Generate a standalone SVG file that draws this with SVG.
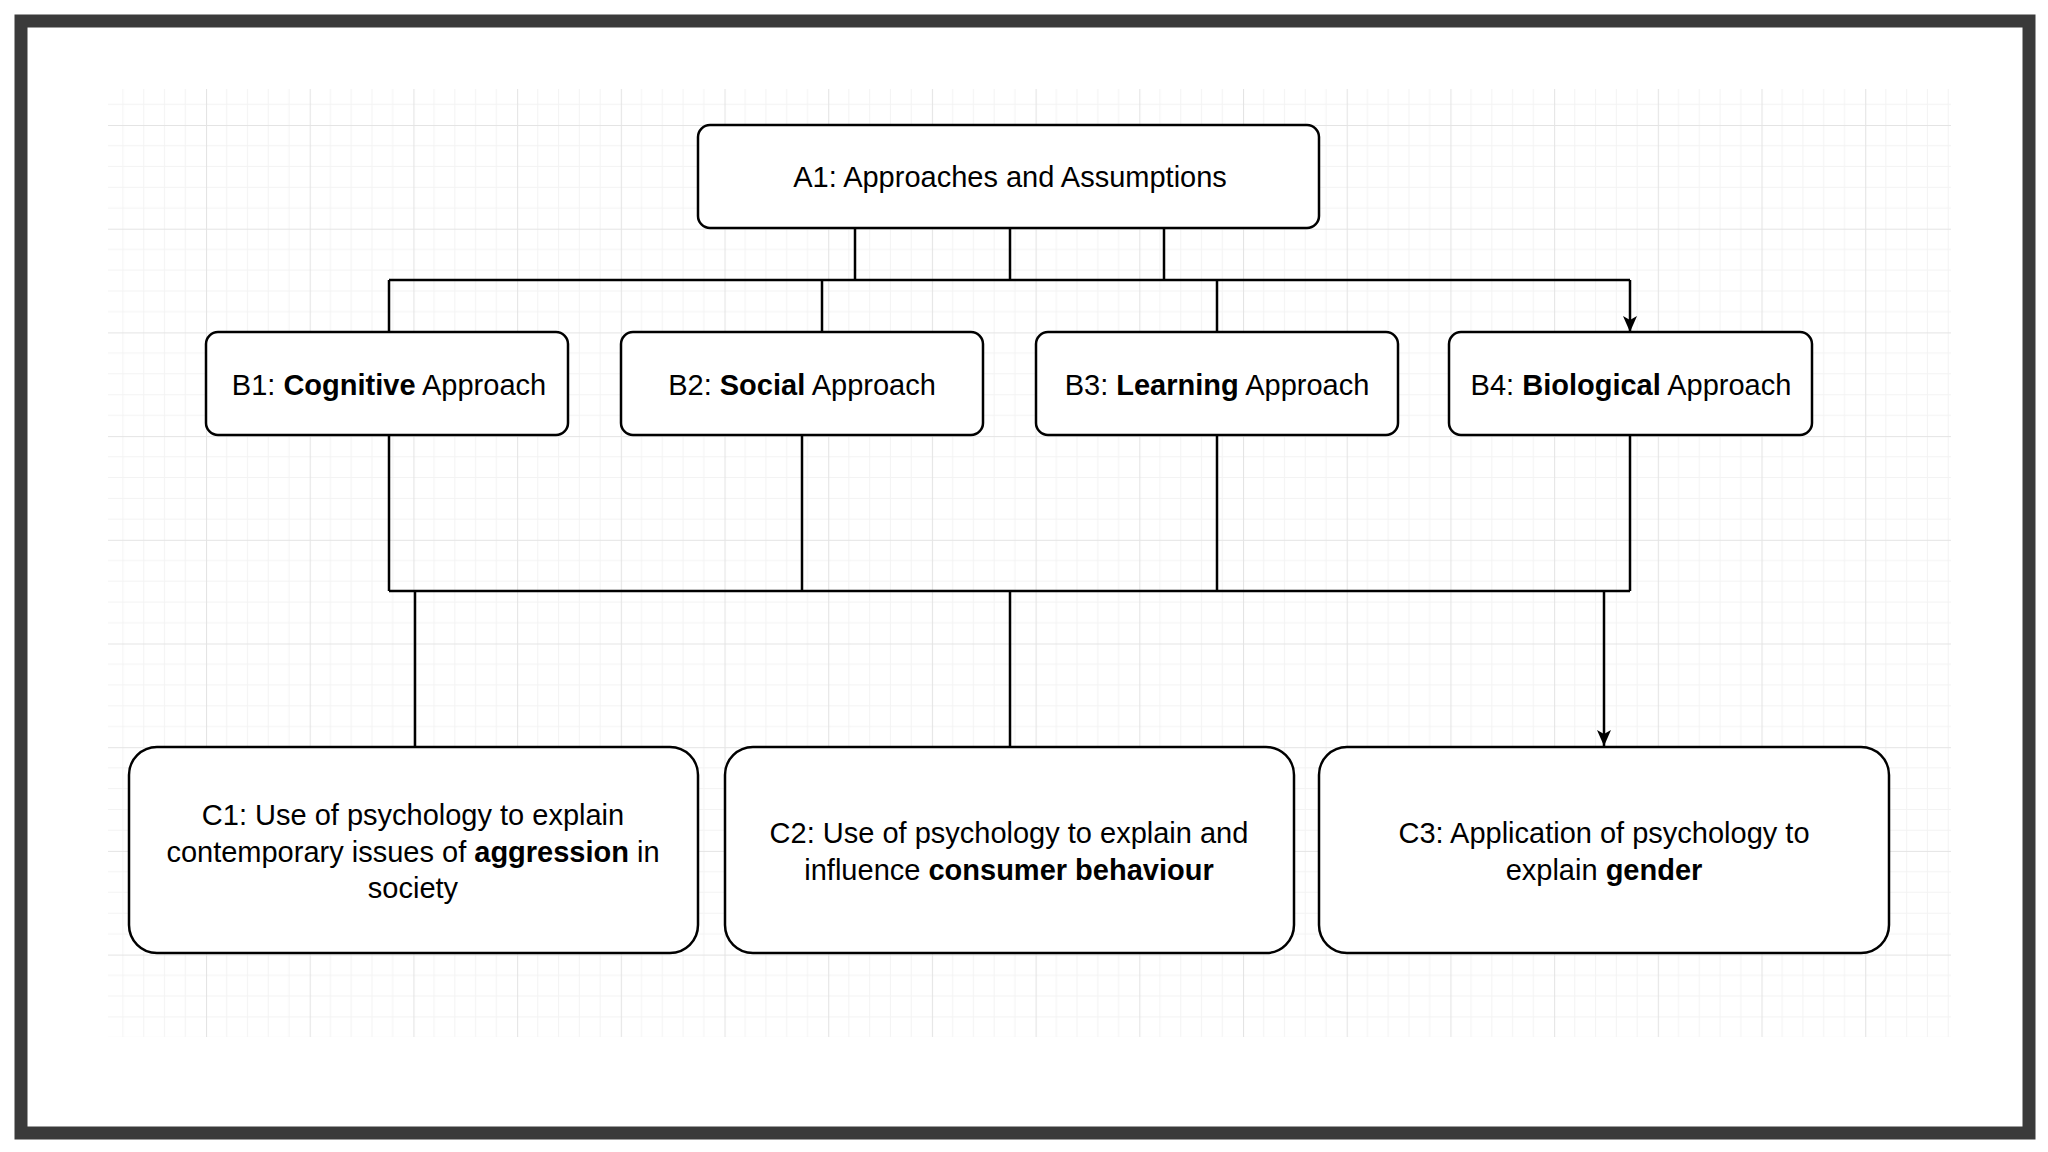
<svg xmlns="http://www.w3.org/2000/svg" width="2048" height="1152" viewBox="0 0 2048 1152">
<style>
.box{fill:#fff;stroke:#000;stroke-width:2.5}
.t{font-family:"Liberation Sans",Arial,sans-serif;font-size:29px;fill:#000;text-anchor:middle}
.b{font-weight:bold}
.c{fill:none;stroke:#000;stroke-width:2.5}
</style>
<defs>
<pattern id="g" x="206" y="125" width="103.7" height="103.7" patternUnits="userSpaceOnUse">
<path d="M20.74 0V103.7M41.48 0V103.7M62.22 0V103.7M82.96 0V103.7M0 20.74H103.7M0 41.48H103.7M0 62.22H103.7M0 82.96H103.7" stroke="#f3f3f3" stroke-width="1"/>
<path d="M0.5 0V103.7M0 0.5H103.7" stroke="#e4e4e4" stroke-width="1.2"/>
</pattern>
<marker id="ar" viewBox="0 0 10 10" refX="10" refY="5" markerWidth="6" markerHeight="6" orient="auto" markerUnits="userSpaceOnUse" style="overflow:visible">
<path d="M0 0L10 5L0 10L3 5Z" fill="#000"/>
</marker>
<marker id="a" viewBox="0 0 16 16" refX="16" refY="8" markerWidth="16" markerHeight="16" orient="auto" markerUnits="userSpaceOnUse">
<path d="M0 1L16 8L0 15L4 8Z" fill="#000"/>
</marker>
</defs>
<rect width="2048" height="1152" fill="#fff"/>
<rect x="108" y="89" width="1843" height="948" fill="url(#g)"/>
<rect x="21" y="21" width="2008" height="1112" fill="none" stroke="#3a3a3a" stroke-width="13"/>
<g id="connectors">
<path class="c" d="M855 228V280M1010 228V280M1164 228V280M389 280H1630"/>
<path class="c" marker-end="url(#a)" d="M389 280V332M822 280V332M1217 280V332M1630 280V332"/>
<path class="c" d="M389 435V591M802 435V591M1217 435V591M1630 435V591M389 591H1630"/>
<path class="c" marker-end="url(#a)" d="M415 591V746M1010 591V746M1604 591V746"/>
</g>
<g id="A1"><rect class="box" x="698" y="125" width="621" height="103" rx="12"/><text class="t" x="1010" y="187">A1: Approaches and Assumptions</text></g>
<g id="B1"><rect class="box" x="206" y="332" width="362" height="103" rx="12"/><text class="t" x="389" y="395">B1: <tspan class="b">Cognitive</tspan> Approach</text></g>
<g id="B2"><rect class="box" x="621" y="332" width="362" height="103" rx="12"/><text class="t" x="802" y="395">B2: <tspan class="b">Social</tspan> Approach</text></g>
<g id="B3"><rect class="box" x="1036" y="332" width="362" height="103" rx="12"/><text class="t" x="1217" y="395">B3: <tspan class="b">Learning</tspan> Approach</text></g>
<g id="B4"><rect class="box" x="1449" y="332" width="363" height="103" rx="12"/><text class="t" x="1631" y="395">B4: <tspan class="b">Biological</tspan> Approach</text></g>
<g id="C1"><rect class="box" x="129" y="747" width="569" height="206" rx="28"/><text class="t" x="413" y="825">C1: Use of psychology to explain</text><text class="t" x="413" y="862">contemporary issues of <tspan class="b">aggression</tspan> in</text><text class="t" x="413" y="898">society</text></g>
<g id="C2"><rect class="box" x="725" y="747" width="569" height="206" rx="28"/><text class="t" x="1009" y="843">C2: Use of psychology to explain and</text><text class="t" x="1009" y="880">influence <tspan class="b">consumer behaviour</tspan></text></g>
<g id="C3"><rect class="box" x="1319" y="747" width="570" height="206" rx="28"/><text class="t" x="1604" y="843">C3: Application of psychology to</text><text class="t" x="1604" y="880">explain <tspan class="b">gender</tspan></text></g>
</svg>
